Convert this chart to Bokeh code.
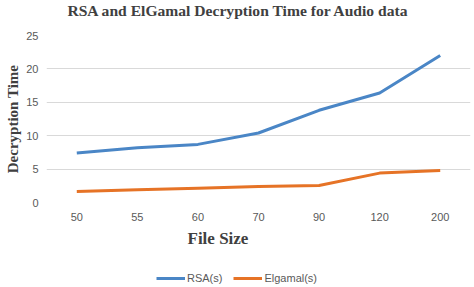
from bokeh.plotting import figure
from bokeh.models import Range1d, FactorRange, Legend, LegendItem, Title, Label
from bokeh.layouts import column
from bokeh.embed import file_html
from bokeh.resources import INLINE

file_sizes = ["50", "55", "60", "70", "90", "120", "200"]
rsa = [7.4, 8.2, 8.7, 10.4, 13.8, 16.4, 22.0]
elgamal = [1.65, 1.9, 2.15, 2.4, 2.55, 4.4, 4.8]
y_ticks = [0, 5, 10, 15, 20, 25]
series_names = ["RSA(s)", "Elgamal(s)"]
colors = ["#4a86c6", "#e67326"]
chart_title = "RSA and ElGamal Decryption Time for Audio data"

# title strip above the chart
t = figure(width=474, height=20, x_range=Range1d(0, 1), y_range=Range1d(0, 1),
           output_backend="svg", toolbar_location=None, title=None,
           min_border_left=0, min_border_right=0, min_border_top=0, min_border_bottom=0)
t.axis.visible = False
t.grid.visible = False
t.outline_line_color = None
t.background_fill_color = "white"
t.border_fill_color = "white"
t.add_layout(Label(x=0.453, y=0.5, text=chart_title, text_align="center", text_baseline="middle",
                   text_font="Liberation Serif", text_font_size="15.6px", text_font_style="bold",
                   text_color="#404040"))

p = figure(width=474, height=242, x_range=FactorRange(*file_sizes), y_range=Range1d(0, 25),
           output_backend="svg", toolbar_location=None, title=None,
           min_border_left=46, min_border_right=4, min_border_top=15, min_border_bottom=60)
p.background_fill_color = "white"
p.border_fill_color = "white"
p.outline_line_color = None

p.line(x=file_sizes, y=rsa, line_color=colors[0], line_width=3)
p.line(x=file_sizes, y=elgamal, line_color=colors[1], line_width=3)

p.xgrid.grid_line_color = None
p.ygrid.grid_line_color = "#d9d9d9"
p.ygrid.grid_line_width = 1
p.yaxis.ticker = y_ticks

for ax in (p.xaxis[0], p.yaxis[0]):
    ax.axis_line_color = None
    ax.major_tick_line_color = None
    ax.minor_tick_line_color = None
    ax.major_tick_out = 0
    ax.major_tick_in = 0
    ax.minor_tick_out = 0
    ax.major_label_text_font = "Liberation Sans"
    ax.major_label_text_font_size = "11px"
    ax.major_label_text_color = "#595959"
    ax.axis_label_text_font = "Liberation Serif"
    ax.axis_label_text_font_style = "bold"
    ax.axis_label_text_color = "#404040"

p.xaxis.major_label_standoff = 10
p.yaxis.axis_label = "Decryption Time"
p.yaxis.axis_label_text_font_size = "15px"
p.yaxis.major_label_standoff = 8
p.yaxis.axis_label_standoff = 2

xlabel = Title(text="File Size", align="left", offset=141, text_font="Liberation Serif",
               text_font_size="17px", text_font_style="bold", text_color="#404040", standoff=7)
p.add_layout(xlabel, "below")

# legend strip below the chart (its lines lie outside its visible y range)
q = figure(width=474, height=25, x_range=FactorRange(*file_sizes), y_range=Range1d(100, 200),
           output_backend="svg", toolbar_location=None, title=None,
           min_border_left=0, min_border_right=0, min_border_top=0, min_border_bottom=0)
q.axis.visible = False
q.grid.visible = False
q.outline_line_color = None
q.background_fill_color = "white"
q.border_fill_color = "white"
items = []
for name, c, vals in zip(series_names, colors, [rsa, elgamal]):
    r = q.line(x=file_sizes, y=vals, line_color=c, line_width=3)
    items.append(LegendItem(label=name, renderers=[r]))
legend = Legend(items=items, orientation="horizontal", location=(110, 2))
legend.label_text_font = "Liberation Sans"
legend.label_text_font_size = "11px"
legend.label_text_color = "#595959"
legend.border_line_color = None
legend.background_fill_alpha = 0
legend.glyph_width = 29
legend.glyph_height = 14
legend.label_height = 14
legend.label_standoff = 2
legend.spacing = 11
legend.padding = 0
legend.margin = 0
q.add_layout(legend, "center")

layout = column(t, p, q, spacing=0)
open("out.html", "w").write(file_html(layout, INLINE))
